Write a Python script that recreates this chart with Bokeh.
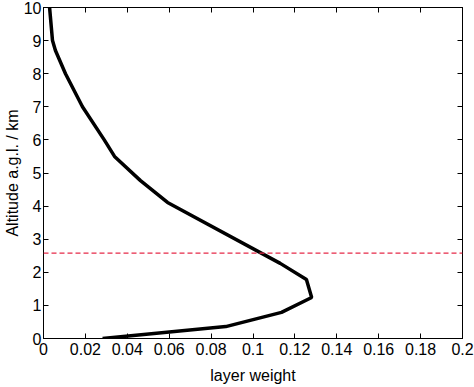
from bokeh.plotting import figure
from bokeh.models import Range1d, LinearAxis, FixedTicker, Span
from bokeh.embed import file_html
from bokeh.resources import INLINE

# data
weight = [0.0282, 0.087, 0.1136, 0.128, 0.1255, 0.113, 0.0592, 0.0463, 0.0339, 0.0290, 0.0186, 0.0105, 0.0057, 0.0043, 0.0029]
altitude = [0.0, 0.36, 0.79, 1.24, 1.78, 2.27, 4.11, 4.77, 5.5, 6.0, 7.0, 8.0, 8.7, 9.0, 10.0]
threshold = 2.58
x_ticks = [0, 0.02, 0.04, 0.06, 0.08, 0.1, 0.12, 0.14, 0.16, 0.18, 0.2]
x_tick_labels = ["0", "0.02", "0.04", "0.06", "0.08", "0.1", "0.12", "0.14", "0.16", "0.18", "0.2"]
y_ticks = [0, 1, 2, 3, 4, 5, 6, 7, 8, 9, 10]

FONT = "Liberation Sans"

p = figure(frame_width=419, frame_height=331, output_backend="svg", toolbar_location=None,
           x_range=Range1d(0, 0.2), y_range=Range1d(0, 10),
           min_border_left=41, min_border_right=14, min_border_top=7, min_border_bottom=49)
p.grid.visible = False
p.background_fill_color = "white"
p.border_fill_color = "white"
p.outline_line_color = "black"
p.outline_line_width = 1

p.line(weight, altitude, line_color="black", line_width=3.5)
p.add_layout(Span(location=threshold, dimension="width", line_color="#e62a48",
                  line_width=1.2, line_dash="5 3"))

xa = p.xaxis[0]
xa.ticker = FixedTicker(ticks=x_ticks)
xa.major_label_overrides = {t: s for t, s in zip(x_ticks, x_tick_labels)}
xa.axis_label = "layer weight"
ya = p.yaxis[0]
ya.ticker = FixedTicker(ticks=y_ticks)
ya.axis_label = "Altitude a.g.l. / km"

for ax in (xa, ya):
    ax.major_tick_in = 5
    ax.major_tick_out = 0
    ax.minor_tick_in = 0
    ax.minor_tick_out = 0
    ax.axis_line_color = "black"
    ax.major_tick_line_color = "black"
    ax.major_label_text_font = FONT
    ax.major_label_text_font_size = "16px"
    ax.major_label_text_color = "black"
    ax.axis_label_text_font = FONT
    ax.axis_label_text_font_size = "16px"
    ax.axis_label_text_font_style = "normal"
    ax.axis_label_text_color = "black"
xa.major_label_standoff = 4
xa.axis_label_standoff = 9
ya.major_label_standoff = 2
ya.axis_label_standoff = 0

top = LinearAxis(ticker=FixedTicker(ticks=x_ticks), major_tick_in=5, major_tick_out=0,
                 minor_tick_in=0, minor_tick_out=0,
                 major_label_overrides={t: "" for t in x_ticks},
                 major_label_standoff=0)
right = LinearAxis(ticker=FixedTicker(ticks=y_ticks), major_tick_in=5, major_tick_out=0,
                   minor_tick_in=0, minor_tick_out=0,
                   major_label_overrides={t: "" for t in y_ticks},
                   major_label_standoff=0)
p.add_layout(top, "above")
p.add_layout(right, "right")

open("out.html", "w").write(file_html(p, INLINE))
